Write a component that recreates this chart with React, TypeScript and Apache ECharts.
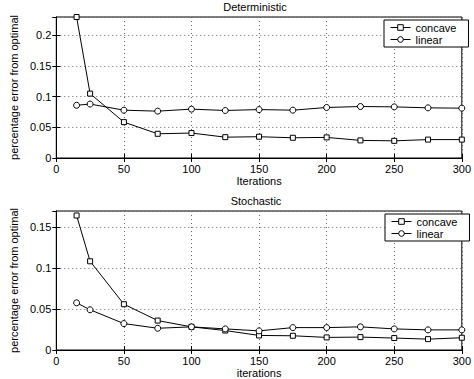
import React, { useEffect, useRef } from "react";
import * as echarts from "echarts";

const iterations = [15, 25, 50, 75, 100, 125, 150, 175, 200, 225, 250, 275, 300];
const detConcave = [0.23, 0.105, 0.0585, 0.0395, 0.0407, 0.034, 0.0347, 0.033, 0.0336, 0.0287, 0.028, 0.030, 0.030];
const detLinear = [0.086, 0.088, 0.078, 0.0764, 0.0797, 0.0775, 0.079, 0.078, 0.0824, 0.084, 0.0834, 0.0818, 0.0813];
const stoConcave = [0.1645, 0.1085, 0.056, 0.036, 0.0283, 0.0238, 0.0178, 0.0174, 0.0154, 0.0158, 0.0146, 0.0133, 0.015];
const stoLinear = [0.0577, 0.0492, 0.0323, 0.0266, 0.0283, 0.0258, 0.0234, 0.0274, 0.0274, 0.0283, 0.0258, 0.0246, 0.0246];
const titles = ["Deterministic", "Stochastic"];
const xNames = ["Iterations", "iterations"];
const yName = "percentage error from optimal";
const seriesNames = ["concave", "linear"];

const FONT = "Liberation Sans, Arial, sans-serif";

export default function App() {
  const ref = useRef<HTMLDivElement>(null);
  useEffect(() => {
    if (!ref.current) return;
    const chart = echarts.init(ref.current, null, { renderer: "svg" });
    const pair = (a: number[]) => iterations.map((x, i) => [x, a[i]]);
    const grids = [
      { left: 38, right: 12, top: 17, height: 141 },
      { left: 40, right: 10, top: 211, height: 141 },
    ];
    const yMax = [0.23, 0.17];
    const text = { color: "#000", fontFamily: FONT, fontSize: 11 };
    const xAxes: any[] = [];
    const yAxes: any[] = [];
    [0, 1].forEach((g) => {
      xAxes.push({
        type: "value", gridIndex: g, min: 0, max: 300, interval: 50,
        name: xNames[g], nameLocation: "middle", nameGap: 17,
        nameTextStyle: { ...text },
        axisLine: { show: true, lineStyle: { color: "#000" } },
        axisTick: { show: true, inside: true, length: 4, lineStyle: { color: "#000" } },
        axisLabel: { ...text, margin: 5 },
        splitLine: { show: true, lineStyle: { color: "#666", type: [1, 3], width: 1 } },
      });
      xAxes.push({
        type: "value", gridIndex: g, position: "top", min: 0, max: 300, interval: 50,
        axisLine: { show: true, lineStyle: { color: "#000" } },
        axisTick: { show: true, inside: true, length: 4, lineStyle: { color: "#000" } },
        axisLabel: { show: false }, splitLine: { show: false },
      });
      yAxes.push({
        type: "value", gridIndex: g, min: 0, max: yMax[g], interval: 0.05,
        name: yName, nameLocation: "middle", nameGap: 28,
        nameTextStyle: { ...text, fontSize: 11 },
        axisLine: { show: true, lineStyle: { color: "#000" } },
        axisTick: { show: true, inside: true, length: 4, lineStyle: { color: "#000" } },
        axisLabel: { ...text, margin: 5, showMaxLabel: false },
        splitLine: { show: true, lineStyle: { color: "#666", type: [1, 3], width: 1 } },
      });
      yAxes.push({
        type: "value", gridIndex: g, position: "right", min: 0, max: yMax[g], interval: 0.05,
        axisLine: { show: true, lineStyle: { color: "#000" } },
        axisTick: { show: true, inside: true, length: 4, lineStyle: { color: "#000" } },
        axisLabel: { show: false }, splitLine: { show: false },
      });
    });
    const mk = (name: string, data: number[], g: number) => ({
      type: "line", name, xAxisIndex: g * 2, yAxisIndex: g * 2, data: pair(data),
      symbol: name === "concave" ? "rect" : "circle",
      symbolSize: name === "concave" ? 5 : 6,
      showAllSymbol: true,
      lineStyle: { color: "#000", width: 1 },
      itemStyle: { color: "#fff", borderColor: "#000", borderWidth: 1 },
    });
    const legend = (top: number, left: number) => ({
      orient: "vertical", left, top, data: seriesNames,
      backgroundColor: "#fff", borderColor: "#000", borderWidth: 1,
      padding: [2, 12, 2, 6], itemGap: 1, itemWidth: 20, itemHeight: 7,
      lineStyle: { width: 1, color: "#000" },
      itemStyle: { color: "#fff", borderColor: "#000", borderWidth: 1 },
      textStyle: { ...text }, selectedMode: false,
    });
    chart.setOption({
      animation: false,
      backgroundColor: "#fff",
      textStyle: { fontFamily: FONT },
      title: [
        { text: titles[0], left: 250, top: -4, textAlign: "center", textStyle: { ...text, fontWeight: "normal" } },
        { text: titles[1], left: 251, top: 190, textAlign: "center", textStyle: { ...text, fontWeight: "normal" } },
      ],
      legend: [legend(20, 384), legend(214, 385)],
      grid: grids.map((g) => ({ ...g, show: true, borderColor: "#000", borderWidth: 1, backgroundColor: "#fff" })),
      xAxis: xAxes,
      yAxis: yAxes,
      series: [
        mk("concave", detConcave, 0),
        mk("linear", detLinear, 0),
        mk("concave", stoConcave, 1),
        mk("linear", stoLinear, 1),
      ],
    });
    return () => chart.dispose();
  }, []);
  return <div ref={ref} style={{ position: "fixed", left: 0, top: 0, width: 474, height: 379 }} />;
}
